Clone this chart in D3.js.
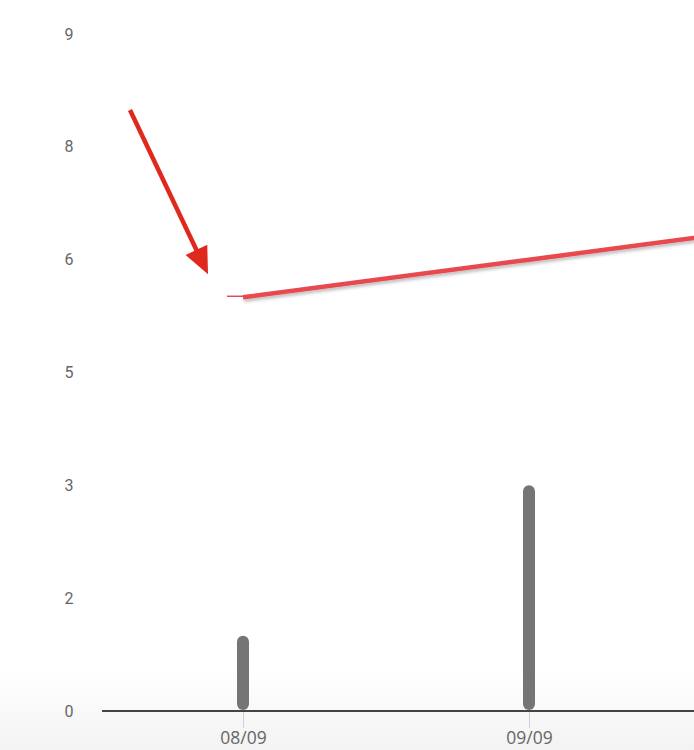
<!DOCTYPE html>
<html>
<head>
<meta charset="utf-8">
<script src="https://cdn.jsdelivr.net/npm/d3@7"></script>
<style>
  html, body { margin: 0; padding: 0; background: #fff; }
  svg { display: block; font-family: Roboto, "Noto Sans", sans-serif; }
</style>
</head>
<body>
<div id="chart"></div>
<script>
// data
const barDates = ['2023-09-08', '2023-09-09'];
const barValues = [1, 3];
const lineDates = ['2023-09-08', '2023-09-09', '2023-09-10'];
const lineValues = [5.5, 6.0, 6.5];
const yTicks = [0, 1.5, 3, 4.5, 6, 7.5, 9];
const xTickDates = ['2023-09-08', '2023-09-09'];

const parseDate = d3.timeParse('%Y-%m-%d');
const width = 694;
const height = 750;

const svg = d3.select('#chart')
  .append('svg')
  .attr('width', width)
  .attr('height', height);

const defs = svg.append('defs');
const grad = defs.append('linearGradient')
  .attr('id', 'bg-grad')
  .attr('x1', 0).attr('y1', 0).attr('x2', 0).attr('y2', 1);
grad.append('stop').attr('offset', '0%').attr('stop-color', '#ffffff');
grad.append('stop').attr('offset', '100%').attr('stop-color', '#f3f3f3');

const shadow = defs.append('filter')
  .attr('id', 'line-shadow')
  .attr('x', '-10%').attr('y', '-50%').attr('width', '120%').attr('height', '200%');
shadow.append('feDropShadow')
  .attr('dx', 1).attr('dy', 2.5).attr('stdDeviation', 1.5)
  .attr('flood-color', '#000').attr('flood-opacity', 0.25);

// light fade at the bottom
svg.append('rect')
  .attr('x', 0).attr('y', 670)
  .attr('width', width).attr('height', height - 670)
  .attr('fill', 'url(#bg-grad)');

const xScale = d3.scaleTime()
  .domain([parseDate('2023-09-08'), parseDate('2023-09-09')])
  .range([243, 529]);

const yScale = d3.scaleLinear()
  .domain([0, 9])
  .range([711, 34]);

// y labels
svg.append('g')
  .selectAll('text')
  .data(yTicks)
  .join('text')
  .attr('x', 69)
  .attr('y', d => yScale(d))
  .attr('dy', '0.35em')
  .attr('text-anchor', 'middle')
  .attr('fill', '#666')
  .attr('font-size', 16)
  .text(d => Math.round(d));

// x axis
const xAxis = d3.axisBottom(xScale)
  .tickValues(xTickDates.map(parseDate))
  .tickFormat(d3.timeFormat('%d/%m'))
  .tickSize(17)
  .tickPadding(4);

const gx = svg.append('g')
  .attr('transform', `translate(0,${yScale(0)})`)
  .call(xAxis);
gx.select('.domain').remove();
gx.selectAll('.tick line').attr('stroke', '#c9d1e3').attr('stroke-width', 1);
gx.selectAll('.tick text')
  .attr('fill', '#666')
  .attr('font-size', 17.5)
  .attr('font-family', '"Open Sans", "Noto Sans", sans-serif')
  .attr('dy', null)
  .attr('y', 33);

svg.append('line')
  .attr('x1', 102).attr('x2', width)
  .attr('y1', yScale(0)).attr('y2', yScale(0))
  .attr('stroke', '#444')
  .attr('stroke-width', 2);

// bars
const barW = 12;
svg.append('g')
  .selectAll('rect')
  .data(barDates.map((d, i) => ({ x: parseDate(d), y: barValues[i] })))
  .join('rect')
  .attr('x', d => xScale(d.x) - barW / 2)
  .attr('y', d => yScale(d.y))
  .attr('width', barW)
  .attr('height', d => yScale(0) - yScale(d.y) - 1)
  .attr('rx', barW / 2)
  .attr('fill', '#757575');

// line
const lineData = lineDates.map((d, i) => ({ x: parseDate(d), y: lineValues[i] }));
const plotLine = d3.line()
  .x(d => xScale(d.x))
  .y(d => yScale(d.y));

// thin lead-in before the first point
const x0 = xScale(lineData[0].x);
const y0 = yScale(lineData[0].y);
svg.append('line')
  .attr('x1', x0 - 16).attr('x2', x0)
  .attr('y1', y0 - 1).attr('y2', y0 - 1)
  .attr('stroke', '#e8494f')
  .attr('stroke-width', 1.5);

svg.append('path')
  .datum(lineData)
  .attr('d', plotLine)
  .attr('fill', 'none')
  .attr('stroke', '#e8494f')
  .attr('stroke-width', 4.5)
  .attr('filter', 'url(#line-shadow)');

// annotation arrow pointing at the line start
const tip = [x0 - 35, y0 - 23];
const tail = [130, 110];
const dx = tip[0] - tail[0];
const dy = tip[1] - tail[1];
const len = Math.hypot(dx, dy);
const ux = dx / len, uy = dy / len;
const headLen = 27, headHalf = 12;
const base = [tip[0] - ux * headLen, tip[1] - uy * headLen];

svg.append('line')
  .attr('x1', tail[0]).attr('y1', tail[1])
  .attr('x2', base[0] + ux * 2).attr('y2', base[1] + uy * 2)
  .attr('stroke', '#e0291d')
  .attr('stroke-width', 4.5);

svg.append('polygon')
  .attr('points', [
    tip,
    [base[0] - uy * headHalf, base[1] + ux * headHalf],
    [base[0] + uy * headHalf, base[1] - ux * headHalf]
  ].map(p => p.join(',')).join(' '))
  .attr('fill', '#e0291d');
</script>
</body>
</html>
